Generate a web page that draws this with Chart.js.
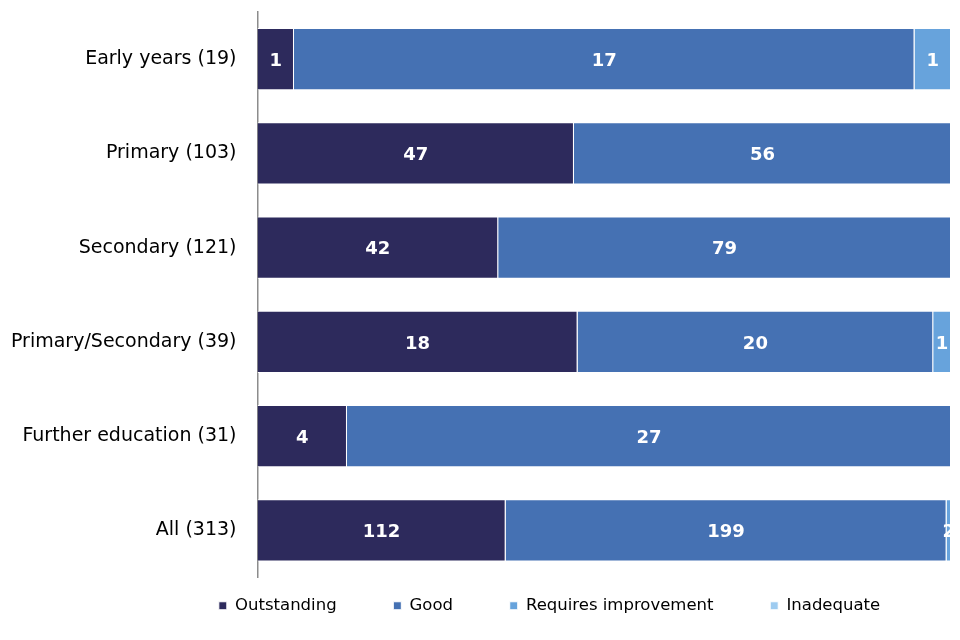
<!DOCTYPE html>
<html>
<head>
<meta charset="utf-8">
<script src="https://cdn.jsdelivr.net/npm/chart.js@4/dist/chart.umd.min.js"></script>
<style>
  html, body { margin: 0; padding: 0; background: #fff; }
  #wrap { width: 960px; height: 640px; }
</style>
</head>
<body>
<div id="wrap"><canvas id="chart"></canvas></div>
<script>
var categories = [
  "Early years (19)",
  "Primary (103)",
  "Secondary (121)",
  "Primary/Secondary (39)",
  "Further education (31)",
  "All (313)"
];
var outstanding = [1, 47, 42, 18, 4, 112];
var good = [17, 56, 79, 20, 27, 199];
var requiresImprovement = [1, 0, 0, 1, 0, 2];
var inadequate = [0, 0, 0, 0, 0, 0];
var seriesNames = ["Outstanding", "Good", "Requires improvement", "Inadequate"];
var seriesColours = ["#2d2a5c", "#4571b3", "#67a3dc", "#9dcbf0"];

var FONT = "'DejaVu Sans', sans-serif";
var LEGEND_SHIFT = 74;
var counts = [outstanding, good, requiresImprovement, inadequate];
var totals = categories.map(function (c, i) {
  return counts.reduce(function (sum, s) { return sum + s[i]; }, 0);
});

// the bars are drawn as shares of each row, the labels show the counts
var datasets = counts.map(function (values, k) {
  return {
    label: seriesNames[k],
    data: values.map(function (v, i) { return v / totals[i] * 100; }),
    counts: values,
    backgroundColor: seriesColours[k],
    borderColor: "#ffffff",
    borderWidth: 1,
    categoryPercentage: 1,
    barPercentage: 0.66
  };
});

var valueLabels = {
  id: "valueLabels",
  afterDatasetsDraw: function (chart) {
    var ctx = chart.ctx, area = chart.chartArea;
    ctx.save();
    ctx.beginPath();
    ctx.rect(area.left, area.top, area.right - area.left, area.bottom - area.top);
    ctx.clip();
    ctx.font = "bold 18px " + FONT;
    ctx.fillStyle = "#ffffff";
    ctx.textAlign = "center";
    ctx.textBaseline = "middle";
    chart.data.datasets.forEach(function (ds, k) {
      chart.getDatasetMeta(k).data.forEach(function (bar, i) {
        var n = ds.counts[i];
        if (!n) return;
        ctx.fillText(String(n), (bar.x + bar.base) / 2, bar.y + 2);
      });
    });
    ctx.restore();
  }
};

// legend sits a little right of the page centre, as in the original
var legendShift = {
  id: "legendShift",
  afterLayout: function (chart) {
    chart.legend.left += LEGEND_SHIFT;
    chart.legend.right += LEGEND_SHIFT;
  }
};

new Chart(document.getElementById("chart"), {
  type: "bar",
  data: { labels: categories, datasets: datasets },
  plugins: [valueLabels, legendShift],
  options: {
    indexAxis: "y",
    responsive: true,
    maintainAspectRatio: false,
    animation: false,
    layout: { padding: { top: 12, right: 9, left: 0, bottom: 16 } },
    scales: {
      x: {
        stacked: true,
        min: 0,
        max: 100,
        display: false
      },
      y: {
        stacked: true,
        grid: { display: false, drawTicks: false },
        border: { display: true, color: "#8c8c8c", width: 1.5 },
        ticks: {
          color: "#000000",
          padding: 21,
          font: { family: FONT, size: 19 }
        },
        afterFit: function (scale) {
          scale.paddingTop = 0;
          scale.paddingBottom = 0;
          scale.width -= 10;
        }
      }
    },
    plugins: {
      legend: {
        position: "bottom",
        labels: {
          color: "#000000",
          boxWidth: 8,
          boxHeight: 8,
          padding: 20,
          font: { family: FONT, size: 16.5 },
          generateLabels: function (chart) {
            var items = Chart.defaults.plugins.legend.labels.generateLabels(chart);
            // wider gaps between the legend entries than between the rows
            items.forEach(function (item, i) {
              if (i < items.length - 1) item.text += "       ";
            });
            return items;
          }
        }
      },
      tooltip: { enabled: false }
    }
  }
});
</script>
</body>
</html>
